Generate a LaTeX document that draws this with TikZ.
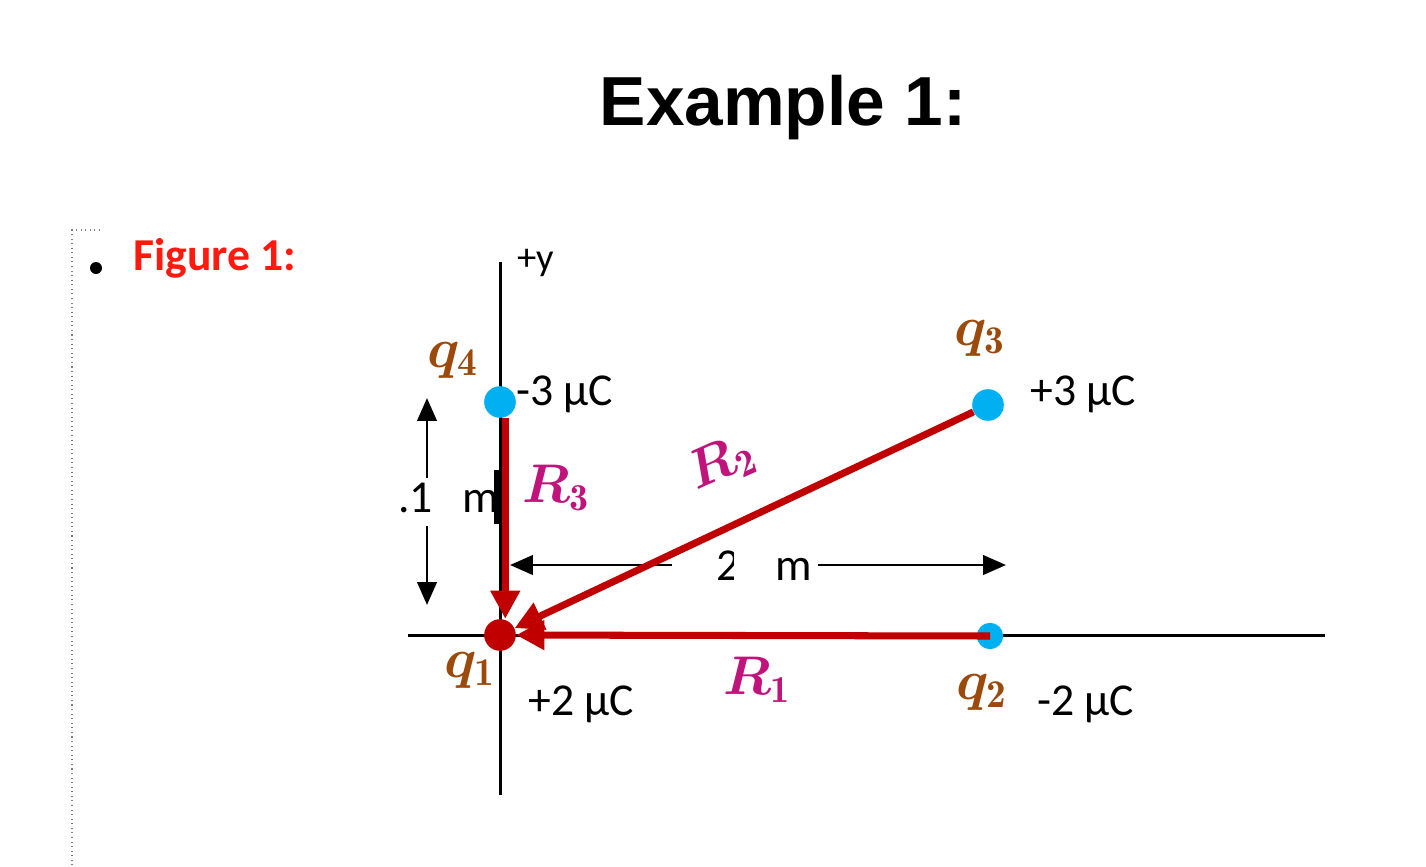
\RequirePackage{fix-cm}
\documentclass[tikz,border=0pt]{standalone}
\usepackage{amsmath,amssymb,bm}
\usepackage{fontspec}
\setsansfont{Liberation Sans}
\newfontfamily\calib{Carlito}
\usepackage{tikz}
\usetikzlibrary{arrows.meta}
\definecolor{chargeblue}{HTML}{00B0F0}
\definecolor{vecred}{HTML}{C00000}
\definecolor{qbrown}{HTML}{9C4A0C}
\definecolor{rmag}{HTML}{C0147C}
\definecolor{figred}{HTML}{FF1A10}
\tikzset{
  axis/.style={draw=black, line width=1.7pt},
  dimarrow/.style={draw=black, line width=1.6pt, -{Triangle[length=13pt,width=11pt]}},
  rvec/.style={draw=vecred, line width=4pt, -{Triangle[length=16pt,width=16pt]}},
  charge/.style={circle, inner sep=0pt, minimum size=18pt},
  qlab/.style={text=qbrown, inner sep=0pt, font=\fontsize{32}{34}\selectfont},
  rlab/.style={text=rmag, inner sep=0pt, font=\fontsize{31}{33}\selectfont},
  val/.style={anchor=base west, inner sep=0pt, font=\calib\fontsize{26}{28}\selectfont},
}
\begin{document}
\begin{tikzpicture}[x=0.02cm, y=-0.02cm]
\useasboundingbox (0,0) rectangle (1426,866);
% heading
\node[font=\sffamily\bfseries\fontsize{39.5}{42}\selectfont] (title) at (783,108) {Example 1:};
\draw[dotted, gray, line width=0.6pt] (100,230) -- (72,230) -- (72,866);
\fill (96,268) circle (6);
\node[val, text=figred, font=\calib\bfseries\fontsize{26}{28}\selectfont] (fig) at (133,270) {Figure 1:};
% axes
\coordinate (ytop) at (500,262);
\coordinate (ybot) at (500,795);
\coordinate (xl) at (408,635);
\coordinate (xr) at (1325,635);
\draw[axis] (ybot) -- (ytop);
\draw[axis] (xl) -- (xr);
\node[val, font=\calib\fontsize{22}{24}\selectfont] (ylab) at (517,270) {+y};
% spacing marks
\coordinate (d1a) at (427,478);
\coordinate (d1b) at (427,398);
\coordinate (d1c) at (427,526);
\coordinate (d1d) at (427,605);
\draw[dimarrow] (d1a) -- (d1b);
\draw[dimarrow] (d1c) -- (d1d);
\node[val] (d1txt) at (398,512) {.1};
\node[val] (d1m) at (462,512) {m};
\fill (494,470) rectangle (502,524);
\coordinate (d2a) at (672,565);
\coordinate (d2b) at (510,565);
\coordinate (d2c) at (818,565);
\coordinate (d2d) at (1006,565);
\draw[dimarrow] (d2a) -- (d2b);
\draw[dimarrow] (d2c) -- (d2d);
\node[val] (d2txt) at (716,580) {2};
\node[val] (d2m) at (775,580) {m};
\fill[white] (734,545) rectangle (775,590);
% charges
\node[charge, fill=vecred] (q1) at (500,635) {};
\node[charge, fill=chargeblue, minimum size=15pt] (q2) at (990,636) {};
\node[charge, fill=chargeblue] (q3) at (988,405) {};
\node[charge, fill=chargeblue] (q4) at (500,402) {};
\draw[rvec] ([xshift=3pt]q4.south) -- ([xshift=3pt]q1.north);
\draw[rvec] (q3) -- (q1);
\draw[rvec] (q2.center) -- (q1);
\node[val] (v4) at (516,405) {-3 µC};
\node[val] (v3) at (1030,405) {+3 µC};
\node[val] (v1) at (528,715) {+2 µC};
\node[val] (v2) at (1037,715) {-2 µC};
\node[qlab] (l4) at (453,360) {$\bm{q}_{\mathbf{4}}$};
\node[qlab] (l3) at (980,338) {$\bm{q}_{\mathbf{3}}$};
\node[qlab] (l1) at (470,670) {$\bm{q}_{\mathbf{1}}$};
\node[qlab] (l2) at (982,692) {$\bm{q}_{\mathbf{2}}$};
\node[rlab] (r3) at (556,488) {$\bm{R}_{\mathbf{3}}$};
\node[rlab, rotate=24] (r2) at (721,463) {$\bm{R}_{\mathbf{2}}$};
\node[rlab] (r1) at (757,680) {$\bm{R}_{\mathbf{1}}$};
\end{tikzpicture}
\end{document}
